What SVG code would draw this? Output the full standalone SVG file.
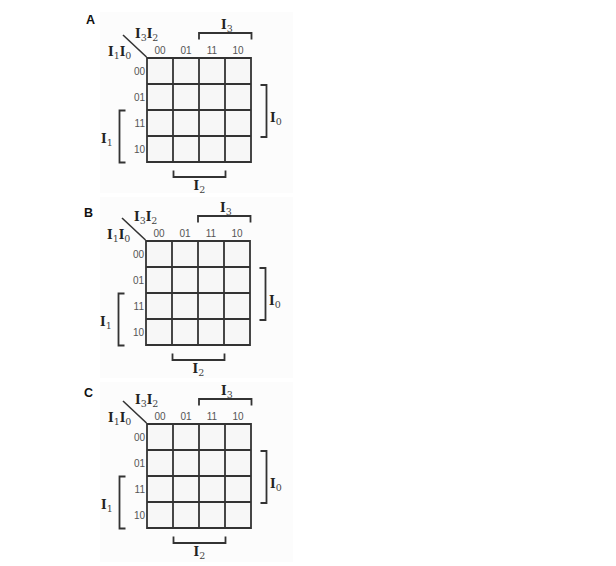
<svg xmlns="http://www.w3.org/2000/svg" width="616" height="566" viewBox="0 0 616 566">
<style>
.bg{fill:#fcfcfc}
.cell{fill:#f7f7f7}
.grid{fill:none;stroke:#333;stroke-width:1.8}
.br{fill:none;stroke:#333;stroke-width:1.8}
.diag{stroke:#333;stroke-width:1.6}
.ttl{font-family:"Liberation Sans",Arial,sans-serif;font-weight:bold;font-size:12.5px;fill:#111}
.num{font-family:"Liberation Sans",Arial,sans-serif;font-size:10px;fill:#555}
.ncol{text-anchor:middle}
.nrow{text-anchor:end}
.iv{font-family:"DejaVu Serif","Liberation Serif",serif;font-weight:bold;font-size:12px;fill:#222}
.sub{font-weight:normal;font-size:9.5px;fill:#444}
</style>
<rect class="bg" x="100" y="12" width="193" height="181"/>
<rect class="bg" x="100" y="197" width="193" height="181"/>
<rect class="bg" x="100" y="382" width="193" height="180"/>

<g id="panel-A">
<text class="ttl" x="86" y="24">A</text>
<rect class="cell" x="147" y="58" width="104" height="104"/>
<path class="grid" d="M147,58H251V162H147Z M173,58V162 M199,58V162 M225,58V162 M147,84H251 M147,110H251 M147,136H251"/>
<line class="diag" x1="123" y1="35" x2="146.5" y2="57"/>
<text class="iv" x="135" y="38">I<tspan class="sub" dy="3">3</tspan><tspan dy="-3">I</tspan><tspan class="sub" dy="3">2</tspan></text>
<text class="iv" x="108" y="55.5">I<tspan class="sub" dy="3">1</tspan><tspan dy="-3">I</tspan><tspan class="sub" dy="3">0</tspan></text>
<text class="num ncol" x="160" y="54">00</text>
<text class="num ncol" x="186" y="54">01</text>
<text class="num ncol" x="212" y="54">11</text>
<text class="num ncol" x="238" y="54">10</text>
<text class="num nrow" x="145" y="74.5">00</text>
<text class="num nrow" x="145" y="100.5">01</text>
<text class="num nrow" x="145" y="126.5">11</text>
<text class="num nrow" x="145" y="152.5">10</text>
<path class="br" d="M199,39.5V33H251.5V39.5"/>
<text class="iv" x="221" y="29">I<tspan class="sub" dy="3">3</tspan></text>
<path class="br" d="M260.5,85H266.5V137H260.5"/>
<text class="iv" x="270" y="121.5">I<tspan class="sub" dy="3">0</tspan></text>
<path class="br" d="M125.5,110.5H119.5V162.5H125.5"/>
<text class="iv" x="101" y="142.5">I<tspan class="sub" dy="3">1</tspan></text>
<path class="br" d="M173.5,170.5V177H225.5V170.5"/>
<text class="iv" x="193.5" y="189.5">I<tspan class="sub" dy="3">2</tspan></text>
</g>

<g id="panel-B">
<text class="ttl" x="84" y="217">B</text>
<g transform="translate(-1,183)">
<rect class="cell" x="147" y="58" width="104" height="104"/>
<path class="grid" d="M147,58H251V162H147Z M173,58V162 M199,58V162 M225,58V162 M147,84H251 M147,110H251 M147,136H251"/>
<line class="diag" x1="123" y1="35" x2="146.5" y2="57"/>
<text class="iv" x="135" y="38">I<tspan class="sub" dy="3">3</tspan><tspan dy="-3">I</tspan><tspan class="sub" dy="3">2</tspan></text>
<text class="iv" x="108" y="55.5">I<tspan class="sub" dy="3">1</tspan><tspan dy="-3">I</tspan><tspan class="sub" dy="3">0</tspan></text>
<text class="num ncol" x="160" y="54">00</text>
<text class="num ncol" x="186" y="54">01</text>
<text class="num ncol" x="212" y="54">11</text>
<text class="num ncol" x="238" y="54">10</text>
<text class="num nrow" x="145" y="74.5">00</text>
<text class="num nrow" x="145" y="100.5">01</text>
<text class="num nrow" x="145" y="126.5">11</text>
<text class="num nrow" x="145" y="152.5">10</text>
<path class="br" d="M199,39.5V33H251.5V39.5"/>
<text class="iv" x="221" y="29">I<tspan class="sub" dy="3">3</tspan></text>
<path class="br" d="M260.5,85H266.5V137H260.5"/>
<text class="iv" x="270" y="121.5">I<tspan class="sub" dy="3">0</tspan></text>
<path class="br" d="M125.5,110.5H119.5V162.5H125.5"/>
<text class="iv" x="101" y="142.5">I<tspan class="sub" dy="3">1</tspan></text>
<path class="br" d="M173.5,170.5V177H225.5V170.5"/>
<text class="iv" x="193.5" y="189.5">I<tspan class="sub" dy="3">2</tspan></text>
</g>
</g>

<g id="panel-C">
<text class="ttl" x="84" y="397">C</text>
<g transform="translate(0,366)">
<rect class="cell" x="147" y="58" width="104" height="104"/>
<path class="grid" d="M147,58H251V162H147Z M173,58V162 M199,58V162 M225,58V162 M147,84H251 M147,110H251 M147,136H251"/>
<line class="diag" x1="123" y1="35" x2="146.5" y2="57"/>
<text class="iv" x="135" y="38">I<tspan class="sub" dy="3">3</tspan><tspan dy="-3">I</tspan><tspan class="sub" dy="3">2</tspan></text>
<text class="iv" x="108" y="55.5">I<tspan class="sub" dy="3">1</tspan><tspan dy="-3">I</tspan><tspan class="sub" dy="3">0</tspan></text>
<text class="num ncol" x="160" y="54">00</text>
<text class="num ncol" x="186" y="54">01</text>
<text class="num ncol" x="212" y="54">11</text>
<text class="num ncol" x="238" y="54">10</text>
<text class="num nrow" x="145" y="74.5">00</text>
<text class="num nrow" x="145" y="100.5">01</text>
<text class="num nrow" x="145" y="126.5">11</text>
<text class="num nrow" x="145" y="152.5">10</text>
<path class="br" d="M199,39.5V33H251.5V39.5"/>
<text class="iv" x="221" y="29">I<tspan class="sub" dy="3">3</tspan></text>
<path class="br" d="M260.5,85H266.5V137H260.5"/>
<text class="iv" x="270" y="121.5">I<tspan class="sub" dy="3">0</tspan></text>
<path class="br" d="M125.5,110.5H119.5V162.5H125.5"/>
<text class="iv" x="101" y="142.5">I<tspan class="sub" dy="3">1</tspan></text>
<path class="br" d="M173.5,170.5V177H225.5V170.5"/>
<text class="iv" x="193.5" y="189.5">I<tspan class="sub" dy="3">2</tspan></text>
</g>
</g>
</svg>
